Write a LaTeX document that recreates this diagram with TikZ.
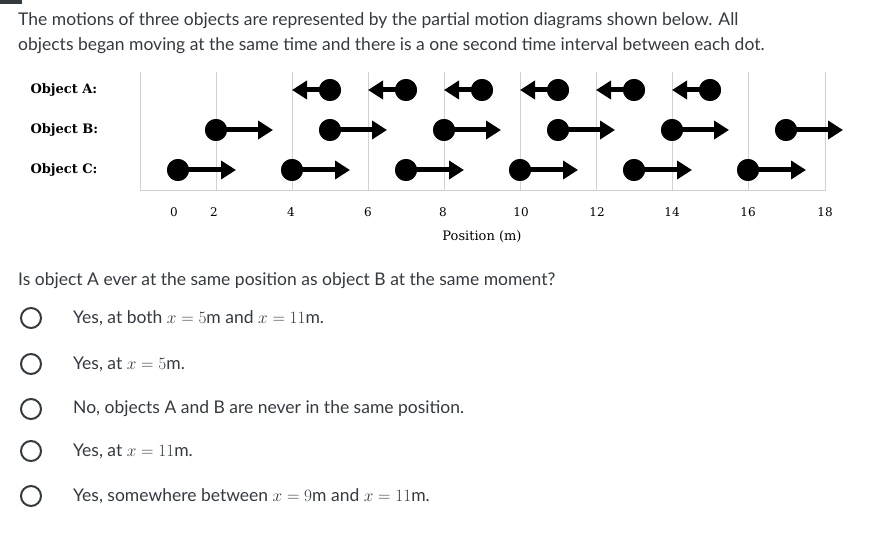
\documentclass[tikz,border=0pt]{standalone}
\usepackage{fontspec}
\setmainfont{Lato}
\newfontfamily\slab{DejaVu Serif}
\usetikzlibrary{arrows.meta}
\definecolor{txt}{HTML}{333A40}
\tikzset{
  dot/.style={circle,fill=black,inner sep=0pt,minimum size=22pt},
  arr/.style={line width=5pt,-{Triangle[length=15pt 0 0,width=18pt 0 0]}},
  grid/.style={draw=black!18,line width=0.8pt},
  lab/.style={font=\slab\bfseries\fontsize{13}{15}\selectfont,anchor=west},
  tick/.style={font=\slab\fontsize{12}{14}\selectfont},
  body/.style={font=\fontsize{17.5}{21}\selectfont,text=txt,anchor=west,inner sep=0pt},
  radio/.style={circle,draw=txt,line width=2pt,minimum size=20pt,inner sep=0pt}
}
\begin{document}
\begin{tikzpicture}[x=1pt,y=-1pt]
\useasboundingbox (0,0) rectangle (872,537);
\fill[fill=txt] (0,0) rectangle (22,4);
\node[body] (t1) at (18,21) {The motions of three objects are represented by the partial motion diagrams shown below. All};
\node[body] (t2) at (18,46) {objects began moving at the same time and there is a one second time interval between each dot.};
\node[lab] (la) at (27,90) {Object A:};
\node[lab] (lb) at (27,130) {Object B:};
\node[lab] (lc) at (27,170) {Object C:};
\foreach \m in {2,4,...,16} \draw[grid] (140+38*\m,72) -- (140+38*\m,190);
\draw[grid] (140,72) -- (140,190) -- (825,190) -- (825,72);
% Object A
\foreach \m in {5,7,9,11,13,15}{
  \node[dot] (a\m) at (140+38*\m,90) {};
  \coordinate (ae\m) at (140+38*\m-38,90);
  \draw[arr] (a\m.center) -- (ae\m);
  \node[dot] at (a\m) {};
}
% Object B
\foreach \m in {2,5,8,11,14,17}{
  \node[dot] (b\m) at (140+38*\m,130) {};
  \coordinate (be\m) at (140+38*\m+57,130);
  \draw[arr] (b\m.center) -- (be\m);
  \node[dot] at (b\m) {};
}
% Object C
\foreach \m in {1,4,7,10,13,16}{
  \node[dot] (c\m) at (140+38*\m,170) {};
  \coordinate (ce\m) at (140+38*\m+58,170);
  \draw[arr] (c\m.center) -- (ce\m);
  \node[dot] at (c\m) {};
}
\foreach \lx/\t in {174/0,214/2,291/4,368/6,443/8,521/10,597/12,672/14,748/16,825/18}
  \node[tick] at (\lx,212) {\t};
\node[tick,font=\slab\fontsize{13}{15}\selectfont] (pos) at (482,237) {Position (m)};
\node[body] (q) at (18,281) {Is object A ever at the same position as object B at the same moment?};
\foreach \yy/\tx in {318/{Yes, at both $x=5\mathrm{m}$ and $x=11\mathrm{m}$.},
  364/{Yes, at $x=5\mathrm{m}$.},
  409/{No, objects A and B are never in the same position.},
  451/{Yes, at $x=11\mathrm{m}$.},
  496/{Yes, somewhere between $x=9\mathrm{m}$ and $x=11\mathrm{m}$.}}{
  \node[radio] at (31,\yy) {};
  \node[body] at (73,\yy) {\tx};
}
\end{tikzpicture}
\end{document}
